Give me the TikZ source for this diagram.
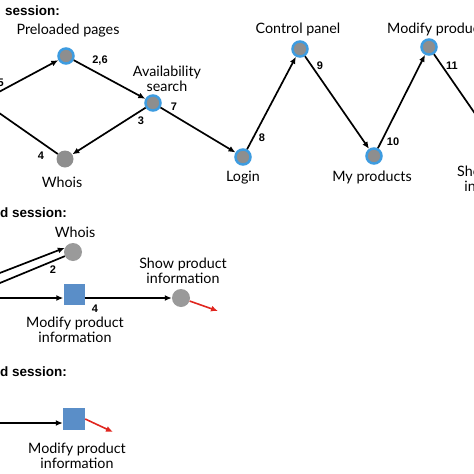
\documentclass[tikz,border=0pt]{standalone}
\usepackage{fontspec}
\setmainfont{Lato}
\newfontfamily\numfont{Liberation Sans}
\usetikzlibrary{arrows.meta}
\definecolor{ringblue}{HTML}{3E9CE0}
\definecolor{nodegray}{HTML}{8E8E8E}
\definecolor{lightgray}{HTML}{9A9A9A}
\definecolor{sqblue}{HTML}{5A8EC8}
\definecolor{redarr}{HTML}{E0261F}
\tikzset{
  pagenode/.style={circle, draw=ringblue, line width=2.5pt, fill=nodegray, inner sep=0pt, minimum size=15pt},
  plainnode/.style={circle, fill=lightgray, inner sep=0pt, minimum size=18pt},
  plainsmall/.style={circle, fill=nodegray, inner sep=0pt, minimum size=17pt},
  sqnode/.style={rectangle, fill=sqblue, inner sep=0pt, minimum size=21pt},
  lbl/.style={font=\fontsize{14.3}{14.5}\selectfont, align=center, inner sep=0pt},
  num/.style={font=\numfont\bfseries\fontsize{11}{12}\selectfont, inner sep=0pt},
  ttl/.style={font=\numfont\bfseries\fontsize{13.5}{15}\selectfont, inner sep=0pt, anchor=west},
  edge/.style={line width=1.7pt, -{Latex[length=7pt,width=6pt]}},
  plainedge/.style={line width=1.7pt},
  redge/.style={line width=1.6pt, draw=redarr, -{Latex[length=7pt,width=6pt]}, color=redarr},
}
\begin{document}
\begin{tikzpicture}[x=1pt,y=-1pt]
\useasboundingbox (0,0) rectangle (474,474);
% ---------- section 1 ----------
\node[ttl] (t1) at (5,11) {session:};
\coordinate (home1) at (-18,101);
\node[pagenode] (pre) at (66,56) {};
\node[pagenode] (avail) at (153,103) {};
\node[plainsmall] (who1) at (65,159) {};
\node[pagenode] (login) at (243,157) {};
\node[pagenode] (ctrl) at (300,49) {};
\node[pagenode] (myp) at (374,156) {};
\node[pagenode] (mod1) at (429,47) {};
\node[pagenode] (show1) at (505,157) {};

\node[lbl] (lpre) at (68,31) {Preloaded pages};
\node[lbl] (lavail) at (167,79) {Availability\\search};
\node[lbl] (lwho1) at (62,182) {Whois};
\node[lbl] (llogin) at (243,178) {Login};
\node[lbl] (lctrl) at (298,29) {Control panel};
\node[lbl] (lmyp) at (372,177) {My products};
\node[lbl] (lmod1) at (436,29) {Modify product};
\node[lbl, anchor=west] (lshow1) at (457,179) {Show product\\information};

\draw[edge] (home1) -- (pre);
\draw[plainedge] (who1) -- (home1);
\draw[edge] (pre) -- (avail);
\draw[edge] (avail) -- (who1);
\draw[edge] (avail) -- (login);
\draw[edge] (login) -- (ctrl);
\draw[edge] (ctrl) -- (myp);
\draw[edge] (myp) -- (mod1);
\draw[edge] (mod1) -- (show1);

\node[num, anchor=east] (n15) at (4,84) {1,5};
\node[num] (n26) at (100,61) {2,6};
\node[num] (n7) at (174,107) {7};
\node[num] (n3) at (141,121) {3};
\node[num] (n4a) at (41,156) {4};
\node[num] (n8) at (262,138) {8};
\node[num] (n9) at (320,66) {9};
\node[num] (n10) at (393,142) {10};
\node[num] (n11) at (452,66) {11};

% ---------- section 2 ----------
\node[ttl] (t2) at (0,213) {d session:};
\node[plainnode] (who2) at (73,252) {};
\node[lbl] (lwho2) at (75,232) {Whois};
\coordinate (h2a) at (-40,288.4);
\coordinate (h2b) at (-40,299.5);
\coordinate (h2c) at (-40,298);
\draw[edge] (h2a) -- (who2.153);
\draw[plainedge] (who2.207) -- (h2b);
\node[num] (n2) at (53,270) {2};
\node[sqnode] (sq2) at (74,294) {};
\node[lbl] (lsq2) at (75,330) {Modify product\\information};
\draw[edge] (h2c) -- (h2c -| sq2.west);
\node[plainnode] (sp) at (181,298) {};
\node[lbl] (lsp) at (183,271) {Show product\\information};
\draw[edge] (h2c -| sq2.east) -- (sp);
\node[num] (n4b) at (95,309) {4};
\coordinate (r2) at (218,311);
\draw[redge] (sp) -- (r2);

% ---------- section 3 ----------
\node[ttl] (t3) at (0,372) {d session:};
\node[sqnode, minimum size=22pt] (sq3) at (74,419) {};
\coordinate (h3) at (-40,423);
\draw[edge] (h3) -- (h3 -| sq3.west);
\coordinate (r3) at (113,432);
\draw[redge] (sq3.east) -- (r3);
\node[lbl] (lsq3) at (77,456) {Modify product\\information};
\end{tikzpicture}
\end{document}
